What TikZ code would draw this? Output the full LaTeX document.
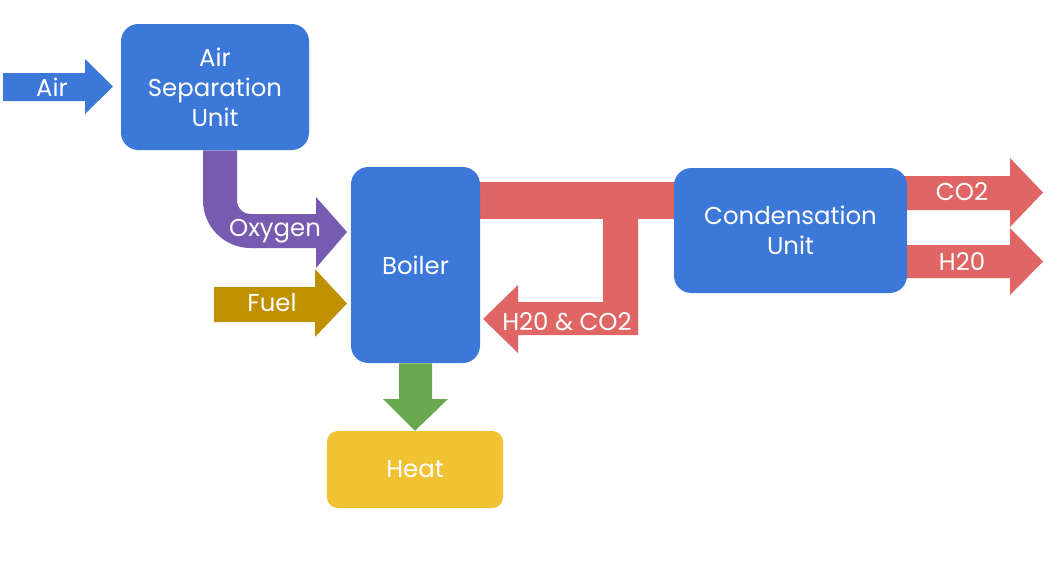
\documentclass[tikz,border=0pt]{standalone}
\usepackage{fontspec}
\setmainfont{Poppins}
\definecolor{gblue}{HTML}{3C78D8}
\definecolor{gpurple}{HTML}{765BB0}
\definecolor{ggold}{HTML}{BF9000}
\definecolor{gred}{HTML}{E06666}
\definecolor{ggreen}{HTML}{6AA84F}
\definecolor{gyellow}{HTML}{F1C232}
\begin{document}
\begin{tikzpicture}[x=0.75pt,y=-0.75pt,
  box/.style={rounded corners=13pt, inner sep=0pt, align=center, text=white,
    font=\fontsize{18.3}{22.5}\selectfont},
  lbl/.style={text=white, inner sep=0pt, font=\fontsize{18.3}{22.5}\selectfont}]
\useasboundingbox (0,0) rectangle (1056,562);
% red flows behind boxes
\fill[gred] (470,182) rectangle (690,219);
\fill[gred] (603,200) -- (638,200) -- (638,335) -- (518,335) -- (518,353) -- (483,319) -- (518,285) -- (518,302) -- (603,302) -- cycle;
\fill[gred] (895,176) -- (1010,176) -- (1010,158) -- (1043,192.5) -- (1010,227) -- (1010,210) -- (895,210) -- cycle;
\fill[gred] (895,245) -- (1010,245) -- (1010,228) -- (1043,261.5) -- (1010,295) -- (1010,278) -- (895,278) -- cycle;
% boxes
\node[box, fill=gblue, minimum width=188*0.75pt, minimum height=126*0.75pt] (asu) at (215,87) {Air\\Separation\\Unit};
\node[box, fill=gblue, minimum width=129*0.75pt, minimum height=196*0.75pt] (boiler) at (415.5,265) {Boiler};
\node[box, fill=gyellow, rounded corners=8pt, minimum width=176*0.75pt, minimum height=77*0.75pt] (heat) at (415,469.5) {Heat};
\node[box, fill=gblue, minimum width=233*0.75pt, minimum height=125*0.75pt] (cond) at (790.5,230.5) {Condensation\\Unit};
% air
\fill[gblue] (3,73) -- (85,73) -- (85,59) -- (113,86.5) -- (85,114) -- (85,101) -- (3,101) -- cycle;
% oxygen
\draw[gpurple, line width=34*0.75pt, rounded corners=23pt] (asu.south -| 220,0) -- (220,231) -- (317,231);
\fill[gpurple] (316,197) -- (347,232) -- (316,268) -- cycle;
% fuel
\fill[ggold] (214,287) -- (315,287) -- (315,269) -- (347,303.5) -- (315,337) -- (315,322) -- (214,322) -- cycle;
% heat arrow
\fill[ggreen] (boiler.south -| 399,0) -- (boiler.south -| 432,0) -- (432,399) -- (448,399) -- (heat.north) -- (383,399) -- (399,399) -- cycle;
% labels
\node[lbl] (lair) at (52,87) {Air};
\node[lbl] (lox) at (275,231) {Oxygen};
\node[lbl] (lfuel) at (272,303) {Fuel};
\node[lbl] (lhc) at (567,322) {H20 \& CO2};
\node[lbl] (lco2) at (962,192) {CO2};
\node[lbl] (lh2o) at (962,262) {H20};
\end{tikzpicture}
\end{document}
